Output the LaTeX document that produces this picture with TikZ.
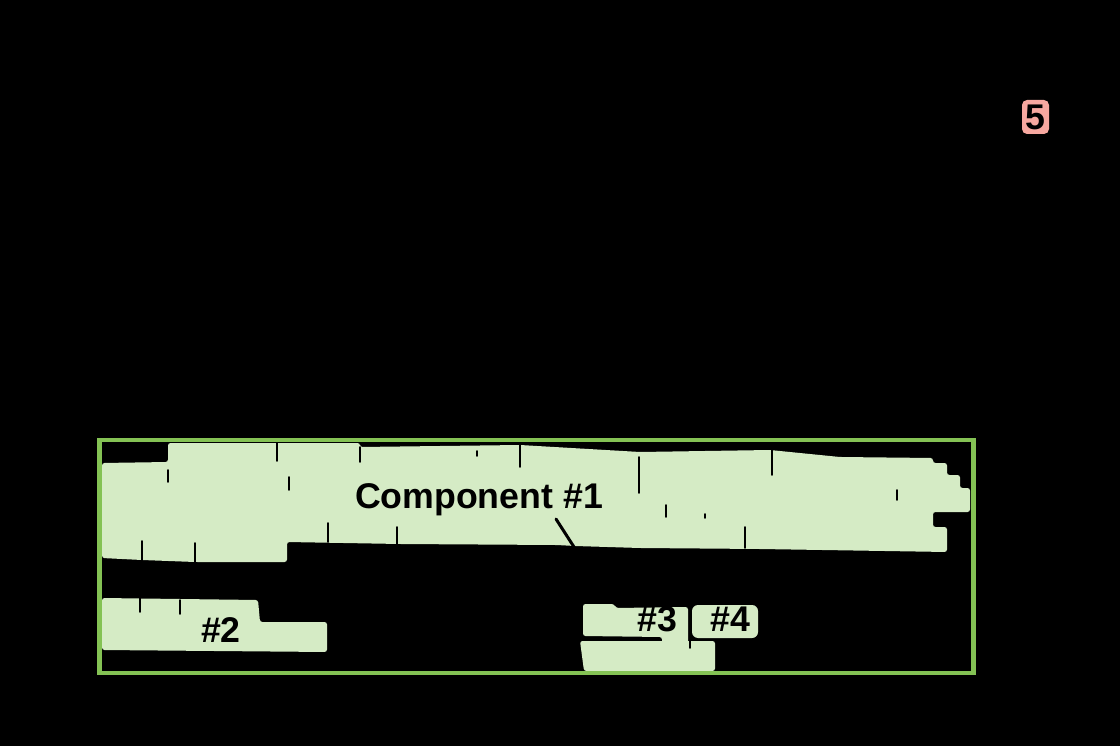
\documentclass[tikz,border=0pt]{standalone}
\usepackage{fontspec}
\setmainfont{Liberation Sans}
\definecolor{bordergreen}{HTML}{84C254}
\definecolor{patchgreen}{HTML}{D5EBC5}
\definecolor{badgepink}{HTML}{F7A8A0}
\tikzset{
  patch/.style={fill=patchgreen, draw=none, rounded corners=2.5pt},
  slit/.style={draw=black, line width=1.6pt, line cap=round},
  gap/.style={draw=black, line width=3pt, line cap=round},
  label/.style={anchor=base, inner sep=0pt, font=\fontsize{35.7}{43}\selectfont\bfseries, text=black},
}
\begin{document}
\begin{tikzpicture}[x=1pt,y=-1pt]
\useasboundingbox (0,0) rectangle (1120,746);
\fill[black] (0,0) rectangle (1120,746);
% big patch (component 1)
\path[patch] (102,463) -- (168,462) -- (168,443) -- (360,443) -- (360,447) -- (520,445) -- (640,452) -- (770,450) -- (840,457) -- (933,458) -- (933,463) -- (947,463) -- (947,475) -- (960,475) -- (960,488) -- (970,488) -- (970,512) -- (933,512) -- (933,527) -- (947,527) -- (947,552) -- (760,549) -- (640,548) -- (575,546) -- (557,545) -- (400,544) -- (287,542) -- (287,562) -- (195,562) -- (142,560) -- (102,558) -- cycle;
% slits inside big patch
\draw[slit] (142,541) -- (142,561);
\draw[slit] (195,543) -- (195,562);
\draw[slit] (168,470) -- (168,482);
\draw[slit] (277,443) -- (277,461);
\draw[slit] (289,477) -- (289,490);
\draw[slit] (328,523) -- (328,542);
\draw[slit] (397,527) -- (397,544);
\draw[slit] (360,447) -- (360,462);
\draw[slit] (520,445) -- (520,467);
\draw[slit] (477,451) -- (477,456);
\draw[slit] (639,457) -- (639,493);
\draw[slit] (666,505) -- (666,517);
\draw[slit] (705,514) -- (705,518);
\draw[slit] (772,450) -- (772,475);
\draw[slit] (745,527) -- (745,548);
\draw[slit] (897,490) -- (897,500);
\draw[gap] (556,519) -- (574,547);
% patch 2
\path[patch] (102,598) -- (258,600) -- (260,622) -- (327,622) -- (327,652) -- (102,650) -- cycle;
\draw[slit] (140,598) -- (140,612);
\draw[slit] (180,600) -- (180,614);
% patches 3 and 4
\path[patch] (583,604) -- (614,604) -- (616,608) -- (688,607) -- (688,645) -- (662,645) -- (662,637) -- (583,636) -- cycle;
\path[patch] (580,641) -- (715,641) -- (715,671) -- (584,671) -- cycle;
\path[patch, rounded corners=6pt] (692,605) rectangle (758,638);
\draw[slit] (690,612) -- (690,648);
% outer border
\draw[bordergreen, line width=4.5pt] (99.5,440) rectangle (973.5,673);
% badge
\path[fill=badgepink, rounded corners=5pt] (1022,100) rectangle (1049,134);
% labels
\node[label] (c1) at (479,508) {Component \#1};
\node[label] (c2) at (221,642) {\#2};
\node[label] (c3) at (657,631) {\#3};
\node[label] (c4) at (730,631) {\#4};
\node[label] (c5) at (1035.5,130) {5};
\end{tikzpicture}
\end{document}
